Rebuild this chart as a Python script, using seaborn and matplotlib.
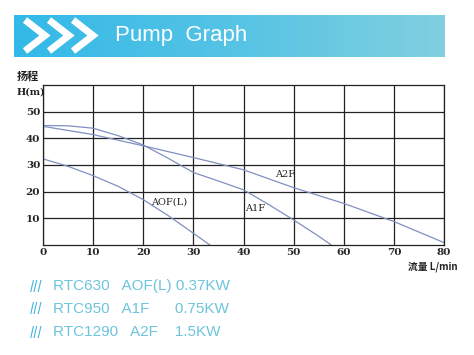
import seaborn as sns
import pandas as pd
import numpy as np
import matplotlib.pyplot as plt
from matplotlib.colors import LinearSegmentedColormap

# 曲线数据 (流量 L/min, 扬程 m)
aof_q = [0, 5, 10, 15, 20, 25, 30, 33.3]
aof_h = [32.3, 29.5, 26.0, 22.0, 17.0, 11.0, 4.4, 0.0]
a1f_q = [0, 5, 10, 15, 20, 25, 30, 35, 40, 45, 50, 55, 57.5]
a1f_h = [44.8, 44.7, 43.8, 41.0, 37.5, 32.5, 27.2, 24.0, 20.7, 15.2, 9.4, 3.3, 0.0]
a2f_q = [0, 10, 20, 30, 40, 50, 60, 70, 80]
a2f_h = [44.5, 41.4, 37.2, 32.8, 28.2, 21.5, 15.6, 8.8, 0.9]

labels = ['AOF(L)', 'A1F', 'A2F']
label_pos = [(21.6, 16.3), (40.4, 13.5), (46.3, 26.3)]
legend_lines = ['RTC630   AOF(L) 0.37KW', 'RTC950   A1F      0.75KW', 'RTC1290   A2F    1.5KW']
x_ticks = [0, 10, 20, 30, 40, 50, 60, 70, 80]
y_ticks = [10, 20, 30, 40, 50]

df = pd.concat([
    pd.DataFrame({'q': aof_q, 'h': aof_h, 'model': 'AOF(L)'}),
    pd.DataFrame({'q': a1f_q, 'h': a1f_h, 'model': 'A1F'}),
    pd.DataFrame({'q': a2f_q, 'h': a2f_h, 'model': 'A2F'}),
])

sns.set_style('white')
plt.rcParams['font.family'] = ['Noto Sans CJK SC', 'DejaVu Sans']

fig = plt.figure(figsize=(4.74, 3.55), dpi=100)

# 标题条
hdr = fig.add_axes([14/474, 1 - 57/355, 431/474, 42/355])
grad = np.linspace(0, 1, 256).reshape(1, -1)
cmap = LinearSegmentedColormap.from_list('hdr', ['#33b9e8', '#55c3e5', '#80d0df'])
hdr.imshow(grad, aspect='auto', cmap=cmap, extent=[0, 431, 0, 42])
hdr.set_xlim(0, 431)
hdr.set_ylim(0, 42)
hdr.axis('off')
for x0 in [11, 35, 59]:
    hdr.plot([x0, x0 + 20, x0], [37, 21.5, 6], color='white', lw=5, solid_capstyle='butt', solid_joinstyle='miter')
hdr.text(101, 21, 'Pump  Graph', color='white', fontsize=16, va='center', ha='left',
         family=['Liberation Sans', 'DejaVu Sans'])

# 曲线图
ax = fig.add_axes([43/474, 1 - 245/355, 401/474, 160/355])
sns.lineplot(data=df, x='q', y='h', hue='model', palette=['#8090c0'] * 3,
             linewidth=0.9, legend=False, ax=ax, sort=False)
ax.set_xlim(0, 80)
ax.set_ylim(0, 60)
ax.set_xticks(x_ticks)
ax.set_yticks(y_ticks)
ax.grid(True, color='#222222', linewidth=0.9)
for s in ax.spines.values():
    s.set_color('#222222')
    s.set_linewidth(0.9)
ax.tick_params(length=0, labelsize=7.5, pad=2)
for t in ax.get_xticklabels() + ax.get_yticklabels():
    t.set_fontweight('bold')
    t.set_family(['DejaVu Serif'])
ax.set_xlabel('')
ax.set_ylabel('')
for lab, (px, py) in zip(labels, label_pos):
    ax.text(px, py, lab, fontsize=7, family=['DejaVu Serif'], va='center', ha='left', color='#222222')

fig.text(17/474, 1 - 76/355, '扬程', fontsize=8, fontweight='bold', va='center', color='#222222')
fig.text(17/474, 1 - 92/355, 'H(m)', fontsize=7, fontweight='bold', va='center', color='#222222',
         family=['DejaVu Serif'])
fig.text(458/474, 1 - 267/355, '流量 L/min', fontsize=7, fontweight='bold', va='center', ha='right',
         color='#222222', family=['Noto Sans CJK SC', 'DejaVu Sans'])

for i, line in enumerate(legend_lines):
    y = 1 - (286 + i * 23) / 355
    fig.text(30/474, y, '///', fontsize=8, fontweight='bold', fontstyle='italic', va='center', color='#3fb2da')
    fig.text(53/474, y, line, fontsize=11, va='center', color='#6cc4dd', family=['Liberation Sans', 'DejaVu Sans'])

fig.savefig('out.png', dpi=100)
